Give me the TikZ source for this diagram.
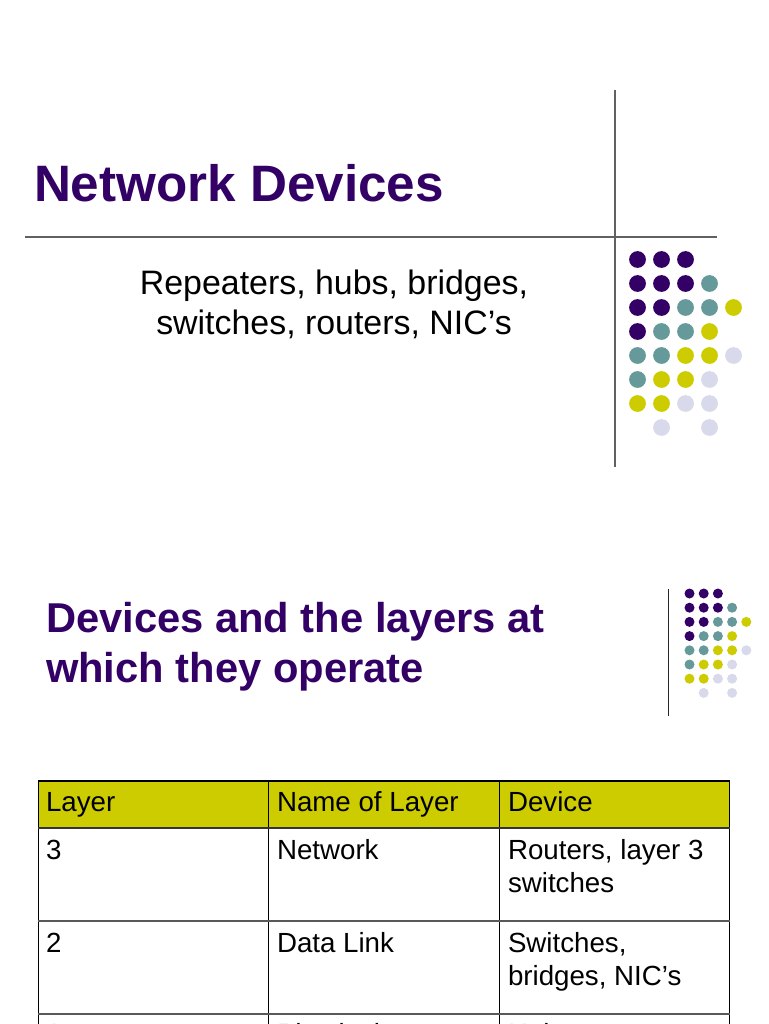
\documentclass[tikz,border=0pt]{standalone}
\usepackage{fontspec}
\setmainfont{Liberation Sans}
\definecolor{tpurple}{HTML}{330066}
\definecolor{dpurple}{HTML}{330066}
\definecolor{dteal}{HTML}{669999}
\definecolor{dyellow}{HTML}{CCCC00}
\definecolor{dlav}{HTML}{D9D9EC}
\tikzset{
  x=1pt,y=-1pt,
  txt/.style={inner sep=0pt,outer sep=0pt,anchor=base west,font=\fontsize{#1}{#1}\selectfont},
  title/.style={inner sep=0pt,outer sep=0pt,anchor=base west,text=tpurple,font=\fontsize{#1}{#1}\selectfont\bfseries},
  grid/.style={draw=black,line width=1.5pt},
  rule/.style={draw=black!62,line width=1.1pt}
}
\newcommand{\dotrow}[6]{% x0 y0 dx r colour list(col,row)
  \foreach \c/\r in {#6}{\fill[#5] (#1+\c*#3,#2+\r*#3) circle (#4);}}
\newcommand{\alldots}[4]{%
  \dotrow{#1}{#2}{#3}{#4}{dpurple}{0/0,1/0,2/0,0/1,1/1,2/1,0/2,1/2,0/3}
  \dotrow{#1}{#2}{#3}{#4}{dteal}{3/1,2/2,3/2,1/3,2/3,0/4,1/4,0/5}
  \dotrow{#1}{#2}{#3}{#4}{dyellow}{4/2,3/3,2/4,3/4,1/5,2/5,0/6,1/6}
  \dotrow{#1}{#2}{#3}{#4}{dlav}{4/4,3/5,2/6,3/6,1/7,3/7}}
\begin{document}
\begin{tikzpicture}
\useasboundingbox (0,0) rectangle (768,1024);
\fill[white] (0,0) rectangle (768,1024);
\clip (0,0) rectangle (768,1024);
% first slide
\coordinate (r1a) at (615,90); \coordinate (r1b) at (615,467);
\coordinate (r2a) at (25,237); \coordinate (r2b) at (717,237);
\draw[rule] (r1a) -- (r1b);
\draw[rule] (r2a) -- (r2b);
\node[title=51.2] (t1) at (34,202) {Network Devices};
\node[txt=33.9,anchor=base] (s1) at (334,294) {Repeaters, hubs, bridges,};
\node[txt=33.9,anchor=base] (s2) at (334,334) {switches, routers, NIC’s};
\alldots{637.5}{259.5}{24}{8.4pt}
% second slide
\coordinate (r3a) at (668.5,589); \coordinate (r3b) at (668.5,716);
\draw[draw=black!85,line width=1pt] (r3a) -- (r3b);
\node[title=41.7] (t2) at (46,632) {Devices and the layers at};
\node[title=41.7] (t3) at (46,682) {which they operate};
\alldots{689.5}{593.5}{14.2}{5pt}
% table
\fill[dyellow] (38,781) rectangle (730,828);
\draw[black,line width=2.2pt] (38,781) -- (730,781);
\draw[grid] (38.5,781) -- (38.5,1024);
\draw[grid] (268.5,781) -- (268.5,1024);
\draw[grid] (499.5,781) -- (499.5,1024);
\draw[grid] (729.5,781) -- (729.5,1024);
\draw[draw=black!80,line width=1.3pt] (38,828) -- (730,828);
\draw[draw=black!65,line width=1.4pt] (38,921) -- (730,921);
\draw[draw=black!65,line width=1.4pt] (38,1014) -- (730,1014);
\node[txt=27.7] (h1) at (46,811) {Layer};
\node[txt=27.7] (h2) at (277,811) {Name of Layer};
\node[txt=27.7] (h3) at (508,811) {Device};
\node[txt=27.7] (a1) at (46,859) {3};
\node[txt=27.7] (a2) at (277,859) {Network};
\node[txt=27.7] (a3) at (508,859) {Routers, layer 3};
\node[txt=27.7] (a4) at (508,892) {switches};
\node[txt=27.7] (b1) at (46,952) {2};
\node[txt=27.7] (b2) at (277,952) {Data Link};
\node[txt=27.7] (b3) at (508,952) {Switches,};
\node[txt=27.7] (b4) at (508,985) {bridges, NIC’s};
\node[txt=27.7] (c1) at (46,1043) {1};
\node[txt=27.7] (c2) at (277,1043) {Physical};
\node[txt=27.7] (c3) at (508,1043) {Hubs};
\end{tikzpicture}
\end{document}
